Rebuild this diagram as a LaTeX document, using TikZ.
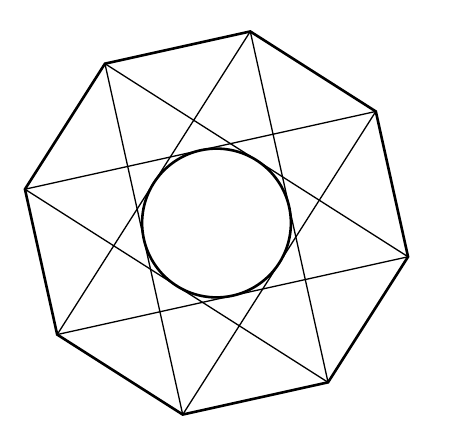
\documentclass[tikz,border=0pt]{standalone}
\usetikzlibrary{calc}
\begin{document}
\begin{tikzpicture}[x=1pt,y=-1pt,
  outline/.style={line width=2.6pt,line join=miter},
  chord/.style={line width=1.3pt}]
\useasboundingbox (0,0) rectangle (450,436);
\coordinate (c) at (216.5,223);
\foreach \i in {0,...,7}{
  \coordinate (v\i) at ($(c)+({194.5*cos(80-45*\i)},{-194.5*sin(80-45*\i)})$);
}
\foreach \i in {0,...,7}{
  \pgfmathtruncatemacro{\j}{mod(\i+3,8)}
  \draw[chord] (v\i) -- (v\j);
}
\draw[outline] (v0)--(v1)--(v2)--(v3)--(v4)--(v5)--(v6)--(v7)--cycle;
\draw[outline] (c) circle (74.4);
\end{tikzpicture}
\end{document}
